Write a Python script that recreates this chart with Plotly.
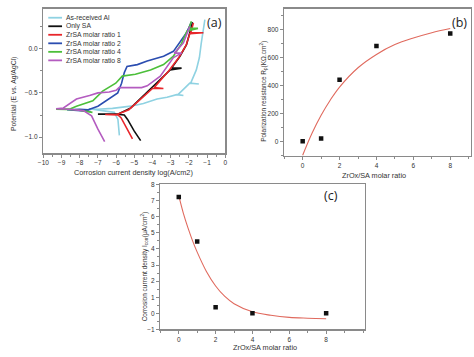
import plotly.graph_objects as go

W, H = 474, 357

# ---------------- Panel (a): polarization curves ----------------
series_names = ["As-received Al", "Only SA", "ZrSA molar ratio 1",
                "ZrSA molar ratio 2", "ZrSA molar ratio 4", "ZrSA molar ratio 8"]
series_colors = ["#8fd2e2", "#111111", "#e8262b", "#2b4db0", "#4cbf3a", "#b45cc0"]

al_x = [-5.82, -5.85, -5.9, -6.1, -7.0, -7.5, -7.0, -6.2, -5.19, -4.5, -3.75, -3.2, -2.67, -2.3,
        -2.6, -2.3, -1.95, -1.45, -1.9, -1.59, -1.42, -1.32, -1.2, -1.12]
al_y = [-0.98, -0.90, -0.80, -0.72, -0.69, -0.68, -0.685, -0.675, -0.65, -0.62, -0.57, -0.55, -0.52, -0.53,
        -0.52, -0.46, -0.39, -0.40, -0.39, -0.24, -0.10, 0.06, 0.20, 0.33]

sa_x = [-4.65, -5.01, -5.37, -5.55, -6.0, -7.0, -6.0, -5.91, -5.19, -4.47, -3.93, -3.39, -3.03, -2.4,
        -2.95, -2.49, -2.13, -1.95, -1.8]
sa_y = [-1.04, -0.93, -0.80, -0.75, -0.74, -0.74, -0.745, -0.74, -0.67, -0.53, -0.42, -0.31, -0.24, -0.22,
        -0.22, -0.085, 0.045, 0.18, 0.30]

r1_x = [-5.1, -5.37, -5.73, -5.9, -6.6, -5.95, -5.3, -4.6, -4.0, -3.4, -3.9, -3.45, -3.1, -2.55,
        -2.15, -1.95, -1.2, -1.9, -1.75]
r1_y = [-1.02, -0.91, -0.78, -0.75, -0.745, -0.745, -0.69, -0.56, -0.45, -0.45, -0.44, -0.33, -0.25, -0.10,
        0.04, 0.17, 0.18, 0.18, 0.29]

r2_x = [-7.4, -8.2, -8.7, -8.0, -7.53, -7.0, -6.45, -5.91, -5.7, -5.55, -5.4, -4.83, -4.29, -3.93,
        -3.39, -2.85, -2.6, -2.13, -1.86]
r2_y = [-0.71, -0.695, -0.69, -0.685, -0.69, -0.65, -0.57, -0.50, -0.39, -0.27, -0.20, -0.18, -0.14, -0.12,
        -0.085, -0.03, 0.04, 0.18, 0.30]

r4_x = [-7.3, -8.2, -9.3, -8.5, -8.18, -7.28, -6.74, -6.02, -5.66, -4.94, -4.11, -3.39, -2.85, -2.4,
        -2.1, -1.5, -2.0, -1.86]
r4_y = [-0.72, -0.69, -0.685, -0.68, -0.65, -0.59, -0.48, -0.39, -0.31, -0.29, -0.24, -0.18, -0.085, 0.06,
        0.20, 0.23, 0.23, 0.31]

r8_x = [-6.63, -7.0, -7.35, -7.8, -8.6, -9.3, -8.9, -8.18, -7.46, -7.0, -6.38, -6.0, -5.84, -4.6,
        -4.29, -3.57, -2.85, -2.4, -2.8, -2.3, -1.95]
r8_y = [-1.05, -0.91, -0.76, -0.70, -0.685, -0.68, -0.67, -0.57, -0.53, -0.50, -0.49, -0.47, -0.44, -0.44,
        -0.42, -0.31, -0.10, -0.05, -0.05, 0.065, 0.25]

curves_x = [al_x, sa_x, r1_x, r2_x, r4_x, r8_x]
curves_y = [al_y, sa_y, r1_y, r2_y, r4_y, r8_y]

# ---------------- Panels (b) and (c) ----------------
ratio = [0, 1, 2, 4, 8]
rp = [5, 25, 445, 685, 775]
rp_fit_x = [0, 0.5, 1, 1.5, 2, 3, 4, 5, 6, 7, 8]
rp_fit_y = [-95, 60, 190, 300, 392, 530, 625, 695, 742, 780, 810]

icorr = [7.22, 4.45, 0.38, 0.0, 0.0]
icorr_fit_x = [0, 0.25, 0.5, 0.75, 1, 1.5, 2, 2.5, 3, 4, 5, 6, 7, 8]
icorr_fit_y = [7.3, 6.2, 5.3, 4.5, 3.8, 2.6, 1.7, 1.05, 0.6, 0.1, -0.12, -0.25, -0.3, -0.33]

ratio_ticks = [0, 2, 4, 6, 8]

# ---------------- geometry helpers (pixels -> paper) ----------------
def px(x):
    return x / W

def py(y):
    return 1 - y / H

A = dict(l=38, r=223, t=5, b=152)
B = dict(l=283, r=472.5, t=5, b=155)
C = dict(l=157, r=365, t=184, b=332)

FONT = "Liberation Sans, Arial, sans-serif"
TXT = "#333333"
FRAME = "#8a8a8a"

fig = go.Figure()

for xs, ys, nm, col in zip(curves_x, curves_y, series_names, series_colors):
    fig.add_trace(go.Scatter(x=xs, y=ys, mode="lines", name=nm,
                             line=dict(color=col, width=1.6), xaxis="x", yaxis="y",
                             showlegend=False))

fig.add_trace(go.Scatter(x=rp_fit_x, y=rp_fit_y, mode="lines", line=dict(color="#e06a5e", width=1.1, shape="spline"),
                         xaxis="x2", yaxis="y2", showlegend=False))
fig.add_trace(go.Scatter(x=ratio, y=rp, mode="markers", marker=dict(symbol="square", size=4.5, color="#111"),
                         xaxis="x2", yaxis="y2", showlegend=False))
fig.add_trace(go.Scatter(x=icorr_fit_x, y=icorr_fit_y, mode="lines", line=dict(color="#e06a5e", width=1.1, shape="spline"),
                         xaxis="x3", yaxis="y3", showlegend=False))
fig.add_trace(go.Scatter(x=ratio, y=icorr, mode="markers", marker=dict(symbol="square", size=4.5, color="#111"),
                         xaxis="x3", yaxis="y3", showlegend=False))

def ax(dom, rng, **kw):
    d = dict(domain=dom, range=rng, showline=True, mirror=True, linecolor=FRAME, linewidth=1.5,
             ticks="outside", ticklen=3, tickcolor=FRAME, tickwidth=1, showgrid=False, zeroline=False,
             tickfont=dict(size=6.5, color=TXT, family=FONT))
    d.update(kw)
    return d

layout = dict(
    width=W, height=H, margin=dict(l=0, r=0, t=0, b=0),
    paper_bgcolor="white", plot_bgcolor="white", showlegend=False,
    font=dict(family=FONT, color=TXT),
    xaxis=ax([px(A["l"]), px(A["r"])], [-10, 0], anchor="y", dtick=1, tick0=0,
             minor=dict(ticks="outside", ticklen=2, dtick=0.5, tickcolor=FRAME)),
    yaxis=ax([py(A["b"]), py(A["t"])], [-1.18, 0.45], anchor="x", tickvals=[-1, -0.5, 0],
             tickformat=".1f", minor=dict(ticks="outside", ticklen=2, dtick=0.25, tickcolor=FRAME)),
    xaxis2=ax([px(B["l"]), px(B["r"])], [-1, 9.1], anchor="y2", tickvals=ratio_ticks,
              minor=dict(ticks="outside", ticklen=2, dtick=1, tickcolor=FRAME)),
    yaxis2=ax([py(B["b"]), py(B["t"])], [-100, 950], anchor="x2", dtick=200, tick0=0,
              minor=dict(ticks="outside", ticklen=2, dtick=100, tickcolor=FRAME)),
    xaxis3=ax([px(C["l"]), px(C["r"])], [-1, 10.1], anchor="y3", tickvals=ratio_ticks,
              minor=dict(ticks="outside", ticklen=2, dtick=1, tickcolor=FRAME)),
    yaxis3=ax([py(C["b"]), py(C["t"])], [-1, 8], anchor="x3", dtick=1, tick0=0,
              minor=dict(ticks="outside", ticklen=2, dtick=0.5, tickcolor=FRAME)),
)
fig.update_layout(**layout)

ann = []
def label(x, y, text, size=7, angle=0, **kw):
    d = dict(x=px(x), y=py(y), xref="paper", yref="paper", text=text, showarrow=False,
             font=dict(size=size, color=TXT, family=FONT), textangle=angle,
             xanchor="center", yanchor="middle")
    d.update(kw)
    ann.append(d)

# axis titles
label(130, 172, "Corrosion current density log(A/cm2)", 7.3)
label(8, 92, "Potential (E vs. Ag/AgCl)", 6.8, angle=-90)
label(374, 175, "ZrOx/SA molar ratio", 7.3)
label(262, 89, "Polarization resistance R<sub>p</sub>(KΩ.cm<sup>2</sup>)", 6.5, angle=-90)
label(263, 350, "ZrOx/SA molar ratio", 7.3)
label(141, 268, "Corrosion current density I<sub>corr</sub>(μA/cm<sup>2</sup>)", 6.5, angle=-90)

# panel letters
PFONT = "Open Sans, Noto Sans, sans-serif"
label(212, 19, "(a)", 12.5, font=dict(size=12.5, color="#222", family=PFONT))
label(461, 19, "(b)", 12.5, font=dict(size=12.5, color="#222", family=PFONT))
label(331, 195, "(c)", 12.5, font=dict(size=12.5, color="#222", family=PFONT))

# legend for panel (a)
shapes = []
for i, (nm, col) in enumerate(zip(series_names, series_colors)):
    yy = 14 + i * 8.7
    shapes.append(dict(type="line", xref="paper", yref="paper", x0=px(43), x1=px(57),
                       y0=py(yy), y1=py(yy), line=dict(color=col, width=1.8)))
    label(59, yy, nm, 6.8, xanchor="left")

fig.update_layout(annotations=ann, shapes=shapes)
fig.write_html("out.html", config={"displayModeBar": False, "staticPlot": True},
               post_script="document.body.style.margin='0';document.body.style.overflow='hidden';")
